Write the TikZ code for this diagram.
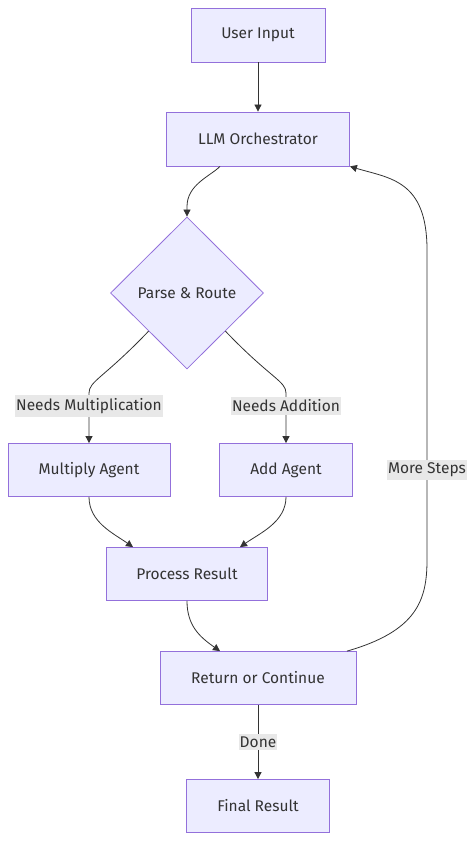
\documentclass[tikz,border=0pt]{standalone}
\usepackage{fontspec}
\setmainfont{Fira Sans}
\usetikzlibrary{arrows.meta,shapes.geometric,calc}

\definecolor{boxfill}{HTML}{ECECFF}
\definecolor{boxline}{HTML}{9370DB}
\definecolor{edgeline}{HTML}{333333}
\definecolor{lblfill}{HTML}{E8E8E8}

\tikzset{
  flowbox/.style={draw=boxline, fill=boxfill, line width=0.8pt,
    inner sep=0pt, font=\fontsize{15.5}{18}\selectfont, text=edgeline},
  choice/.style={flowbox, diamond, aspect=1, minimum width=153pt, minimum height=152pt},
  lbl/.style={fill=lblfill, inner xsep=1pt, inner ysep=3pt,
    font=\fontsize{15.5}{18}\selectfont, text=edgeline},
  link/.style={draw=edgeline, line width=0.8pt, -{Triangle[length=7pt,width=7pt]}}
}

\begin{document}
\begin{tikzpicture}[x=1pt, y=-1pt]
  \useasboundingbox (0,0) rectangle (474,842);

  % nodes
  \node[flowbox, minimum width=134pt, minimum height=54pt] (input) at (258,35) {User Input};
  \node[flowbox, minimum width=183pt, minimum height=54pt] (llm) at (258,139) {LLM Orchestrator};
  \node[choice] (parse) at (187,293) {Parse \& Route};
  \node[flowbox, minimum width=162pt, minimum height=53pt] (mult) at (89,470) {Multiply Agent};
  \node[flowbox, minimum width=133pt, minimum height=53pt] (add) at (286,470) {Add Agent};
  \node[flowbox, minimum width=161pt, minimum height=53pt] (proc) at (187,574) {Process Result};
  \node[flowbox, minimum width=196pt, minimum height=53pt] (ret) at (258,678) {Return or Continue};
  \node[flowbox, minimum width=143pt, minimum height=53pt] (final) at (258,806) {Final Result};

  % connectors
  \draw[link] (input) -- (llm);
  \draw[link] ($(llm.south)+(-38,0)$) .. controls +(-10,10) and +(0,-22) .. ($(parse.north)+(0,-10)$) -- (parse.north);
  \draw[link] (parse.south west) .. controls +(-45,47) and +(0,-12) .. ($(mult.north)+(0,-50)$) -- (mult.north);
  \draw[link] (parse.south east) .. controls +(45,47) and +(0,-12) .. ($(add.north)+(0,-50)$) -- (add.north);
  \draw[link] (mult.south) .. controls +(0,25) and +(-20,-14) .. ($(proc.north)+(-54,0)$);
  \draw[link] (add.south) .. controls +(0,25) and +(20,-14) .. ($(proc.north)+(53,0)$);
  \draw[link] (proc.south) .. controls +(0,25) and +(-20,-14) .. ($(ret.north)+(-38,0)$);
  \draw[link] ($(ret.north)+(89,0)$) .. controls +(70,-20) and +(0,40) .. (427,560)
    -- (427,250) .. controls +(0,-70) and +(40,12) .. (llm.south east);
  \draw[link] (ret) -- (final);

  % edge labels
  \node[lbl] (lmult) at (89,406) {Needs Multiplication};
  \node[lbl] (ladd) at (286,406) {Needs Addition};
  \node[lbl] (lmore) at (427,470) {More Steps};
  \node[lbl] (ldone) at (258,742) {Done};
\end{tikzpicture}
\end{document}
